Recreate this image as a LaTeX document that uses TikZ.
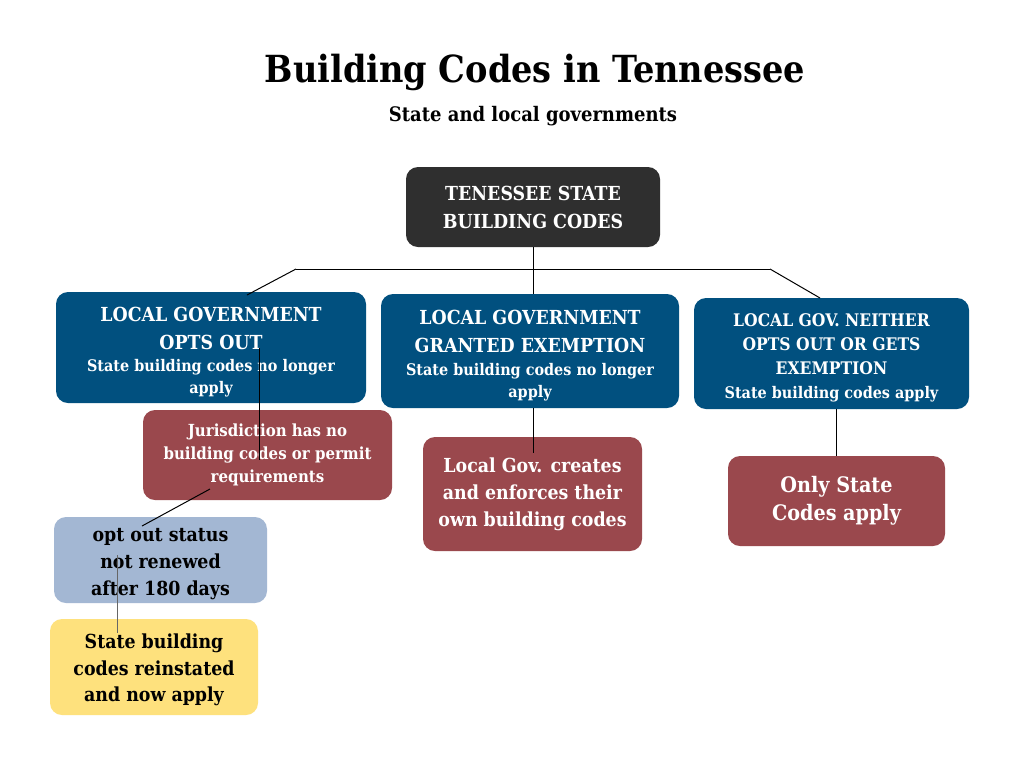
\documentclass[tikz,border=0pt]{standalone}
\usepackage{fontspec}
\setmainfont{DejaVu Serif Condensed}[BoldFont={DejaVu Serif Condensed Bold}]
\definecolor{cdark}{HTML}{2F2F2F}
\definecolor{cblue}{HTML}{01507F}
\definecolor{cred}{HTML}{9A484D}
\definecolor{clight}{HTML}{A3B7D3}
\definecolor{cyel}{HTML}{FEE17D}
\tikzset{
  box/.style={rounded corners=9pt, inner sep=0pt, align=center},
  conn/.style={line width=0.75pt, black},
  hdr/.style={font=\bfseries\fontsize{14.5}{21}\selectfont},
}
\newcommand{\subt}[1]{{\fontsize{12}{16}\selectfont #1}}
\newcommand{\pushdown}[1]{\rule{0pt}{#1}}
\begin{document}
\begin{tikzpicture}[x=0.75pt,y=-0.75pt]
\useasboundingbox (0,0) rectangle (1024,768);
\fill[white] (0,0) rectangle (1024,768);
% title
\node[font=\bfseries\fontsize{28}{34}\selectfont] (title) at (535,72) {Building Codes in Tennessee};
\node[font=\bfseries\fontsize{15}{20}\selectfont] (subtitle) at (533,116) {State and local governments};
% boxes
\node[box, fill=cdark, text=white, minimum width=254*0.75pt, minimum height=80*0.75pt,
  font=\bfseries\fontsize{14.5}{21}\selectfont] (top) at (533,207) {TENESSEE STATE\\BUILDING CODES};
\node[box, fill=cblue, text=white, minimum width=310*0.75pt, minimum height=111*0.75pt, hdr]
  (lgo) at (211,347.5) {\pushdown{18pt}LOCAL GOVERNMENT\\OPTS OUT\\[-5pt]\subt{State building codes no longer}\\[-4pt]\subt{apply}};
\node[box, fill=cblue, text=white, minimum width=298*0.75pt, minimum height=114*0.75pt, hdr]
  (lge) at (530,351) {\pushdown{18pt}LOCAL GOVERNMENT\\GRANTED EXEMPTION\\[-4pt]\subt{State building codes no longer}\\[-4pt]\subt{apply}};
\node[box, fill=cblue, text=white, minimum width=275*0.75pt, minimum height=111*0.75pt,
  font=\bfseries\fontsize{13}{18}\selectfont]
  (lgn) at (831.5,353.5) {\pushdown{16.5pt}LOCAL GOV. NEITHER\\OPTS OUT OR GETS\\EXEMPTION\\\subt{State building codes apply}};
\node[box, fill=cred, text=white, minimum width=249*0.75pt, minimum height=90*0.75pt,
  font=\bfseries\fontsize{12.5}{17.5}\selectfont]
  (r1) at (267.5,455) {Jurisdiction has no\\building codes or permit\\requirements};
\node[box, fill=cred, text=white, minimum width=219*0.75pt, minimum height=114*0.75pt,
  font=\bfseries\fontsize{14.5}{20.2}\selectfont]
  (r2) at (532.5,494) {Local Gov. creates\\and enforces their\\own building codes};
\node[box, fill=cred, text=white, minimum width=217*0.75pt, minimum height=90*0.75pt,
  font=\bfseries\fontsize{16}{21}\selectfont]
  (r3) at (836.5,501) {Only State\\Codes apply};
\node[box, fill=clight, text=black, minimum width=213*0.75pt, minimum height=86*0.75pt,
  font=\bfseries\fontsize{14.5}{20.2}\selectfont]
  (lbb) at (160.5,560) {\pushdown{15.5pt}opt out status\\not renewed\\after 180 days};
\node[box, fill=cyel, text=black, minimum width=208*0.75pt, minimum height=96*0.75pt,
  font=\bfseries\fontsize{14.5}{20}\selectfont]
  (yel) at (154,667) {\pushdown{15.5pt}State building\\codes reinstated\\and now apply};
% connector coordinates
\coordinate (jl) at (296,269);
\coordinate (jr) at (770,269);
\coordinate (lgoin) at (247,295);
\coordinate (lgnin) at (820,298);
\coordinate (a1) at (259,348);
\coordinate (a2) at (259,460);
\coordinate (b1) at (210,489);
\coordinate (b2) at (142,526);
\coordinate (c1) at (117,555);
\coordinate (c2) at (117,633);
\coordinate (d1) at (533,408);
\coordinate (d2) at (533,453);
% connectors
\draw[conn] (top.south) -- (top.south |- lge.north);
\draw[conn] (jl) -- (jr);
\draw[conn] (jl) -- (lgoin);
\draw[conn] (jr) -- (lgnin);
\draw[conn] (a1) -- (a2);
\draw[conn] (b1) -- (b2);
\draw[conn, black!60] (c1) -- (c2);
\draw[conn] (d1) -- (d2);
\draw[conn] (r3.north |- lgn.south) -- (r3.north);
\end{tikzpicture}
\end{document}
